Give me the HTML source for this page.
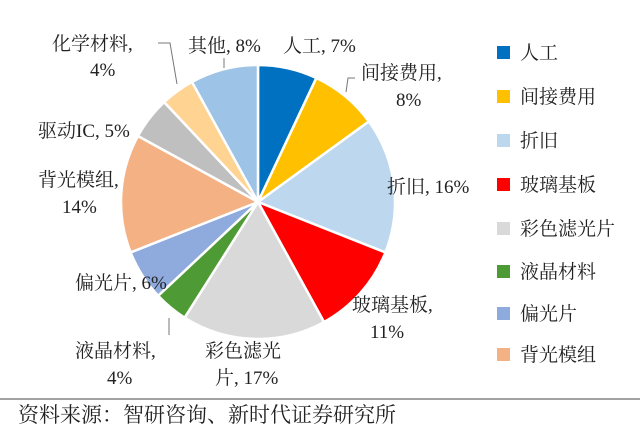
<!DOCTYPE html>
<html><head><meta charset="utf-8"><style>
html,body{margin:0;padding:0;background:#fff;}
svg text{font-family:"Liberation Serif","Noto Serif CJK SC",serif;font-size:19px;fill:#222;}
</style></head><body>
<svg id="s" width="640" height="433" viewBox="0 0 640 433" xmlns="http://www.w3.org/2000/svg">
<g id="pie"></g>
<g stroke="#777" stroke-width="1" fill="none">
<polyline points="158,43 170,43 177,84"/>
<line x1="224" y1="58" x2="224" y2="68"/>
<polyline points="355,78 348,78 346,92"/>
<line x1="169" y1="335" x2="169" y2="318"/>
</g>
<text x="188" y="52">其他, 8%</text>
<text x="283" y="52">人工, 7%</text>
<text x="361" y="79">间接费用,</text>
<text x="396" y="106">8%</text>
<text x="387" y="193">折旧, 16%</text>
<text x="352" y="311">玻璃基板,</text>
<text x="370" y="338">11%</text>
<text x="205" y="357">彩色滤光</text>
<text x="215" y="384">片, 17%</text>
<text x="75" y="357">液晶材料,</text>
<text x="107" y="384">4%</text>
<text x="75" y="289">偏光片, 6%</text>
<text x="38" y="186">背光模组,</text>
<text x="62" y="213">14%</text>
<text x="38" y="137">驱动IC, 5%</text>
<text x="52" y="50">化学材料,</text>
<text x="90" y="76">4%</text>
<g id="leg"></g>
<line x1="0" y1="399" x2="640" y2="399" stroke="#444" stroke-width="1"/>
<text x="18" y="422" style="font-size:21px">资料来源：智研咨询、新时代证券研究所</text>
<g style="font-size:20px">
<text x="520" y="59">人工</text>
<text x="520" y="103">间接费用</text>
<text x="520" y="147">折旧</text>
<text x="520" y="191">玻璃基板</text>
<text x="520" y="235">彩色滤光片</text>
<text x="520" y="278">液晶材料</text>
<text x="520" y="320">偏光片</text>
<text x="520" y="361">背光模组</text>
</g>
</svg>
<script>
var d=[[7,"#0070C0"],[8,"#FFC000"],[16,"#BDD7EE"],[11,"#FF0000"],[17,"#D9D9D9"],[4,"#4E9A34"],[6,"#8FAADC"],[14,"#F4B183"],[5,"#BFBFBF"],[4,"#FFD391"],[8,"#9DC3E6"]];
var cx=258,cy=202,r=137,a=0,g=document.getElementById("pie"),ns="http://www.w3.org/2000/svg";
d.forEach(function(v){var a2=a+v[0]/100*2*Math.PI;
var x1=cx+r*Math.sin(a),y1=cy-r*Math.cos(a),x2=cx+r*Math.sin(a2),y2=cy-r*Math.cos(a2);
var p=document.createElementNS(ns,"path");
p.setAttribute("d","M"+cx+","+cy+"L"+x1+","+y1+"A"+r+","+r+" 0 "+(a2-a>Math.PI?1:0)+" 1 "+x2+","+y2+"Z");
p.setAttribute("fill",v[1]);p.setAttribute("stroke","#fff");p.setAttribute("stroke-width","2.5");g.appendChild(p);a=a2;});
var ly=[52,96,140,184,228,271,313,354],lc=["#0070C0","#FFC000","#BDD7EE","#FF0000","#D9D9D9","#4E9A34","#8FAADC","#F4B183"],L=document.getElementById("leg");
ly.forEach(function(y,i){var q=document.createElementNS(ns,"rect");q.setAttribute("x",497);q.setAttribute("y",y-6);q.setAttribute("width",13);q.setAttribute("height",13);q.setAttribute("fill",lc[i]);L.appendChild(q);});
</script>
</body></html>
